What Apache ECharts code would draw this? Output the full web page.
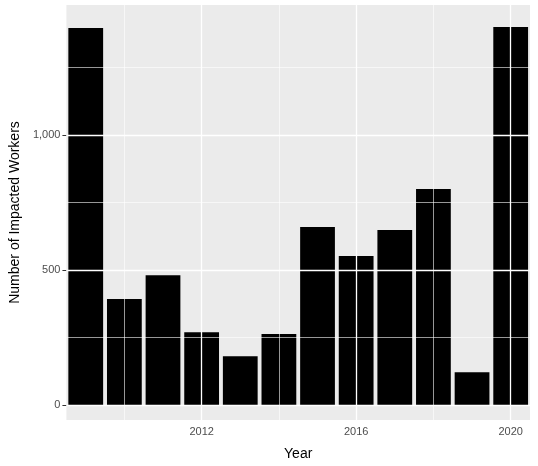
<!DOCTYPE html><html><head><meta charset="utf-8"><script src="https://cdn.jsdelivr.net/npm/echarts@6/dist/echarts.min.js"></script></head><body style="margin:0"><div id="c" style="width:538px;height:466px"></div><script>
const years=['2009','2010','2011','2012','2013','2014','2015','2016','2017','2018','2019','2020'];
const workers=[1396,393,481,270,181,263,659,552,648,800,122,1400];
const yTicks=[0,500,1000];
const yMinor=[250,750,1250];
const xMajor=['2012','2016','2020'];
const xMinor=['2010','2014','2018'];
const shown=new Set(xMajor);
const ml=(arr,key,w)=>arr.map(v=>({[key]:v,lineStyle:{color:'#fff',width:w,type:'solid'}}));
const c=echarts.init(document.getElementById('c'));
c.setOption({animation:false,
grid:{left:60,right:8,top:5,bottom:46,show:true,backgroundColor:'#EBEBEB',borderWidth:0},
xAxis:{type:'category',data:years,name:'Year',nameLocation:'middle',nameGap:27,nameTextStyle:{color:'#000',fontSize:14,fontFamily:'Liberation Sans'},
axisLine:{show:false},axisTick:{alignWithLabel:true,interval:(i,v)=>shown.has(v),lineStyle:{color:'#333'},length:4},
axisLabel:{interval:(i,v)=>shown.has(v),color:'#4D4D4D',fontSize:11,margin:6,fontFamily:'Liberation Sans'},splitLine:{show:false}},
yAxis:{type:'value',min:-55,max:1481,name:'Number of Impacted Workers',nameLocation:'middle',nameGap:42,nameTextStyle:{color:'#000',fontSize:14,fontFamily:'Liberation Sans'},
axisLine:{show:false},splitLine:{show:false},axisTick:{show:true,customValues:yTicks,length:4,lineStyle:{color:'#333'}},
axisLabel:{customValues:yTicks,color:'#4D4D4D',fontSize:11,margin:6,fontFamily:'Liberation Sans'}},
series:[
{type:'line',data:[],z:1,markLine:{silent:true,symbol:'none',label:{show:false},animation:false,
data:[...ml(yTicks,'yAxis',1.3),...ml(yMinor,'yAxis',0.6),...ml(xMajor,'xAxis',1.3),...ml(xMinor,'xAxis',0.6)]}},
{type:'bar',data:workers,z:3,barCategoryGap:'10%',itemStyle:{color:'#000'}}
]});
</script></body></html>
